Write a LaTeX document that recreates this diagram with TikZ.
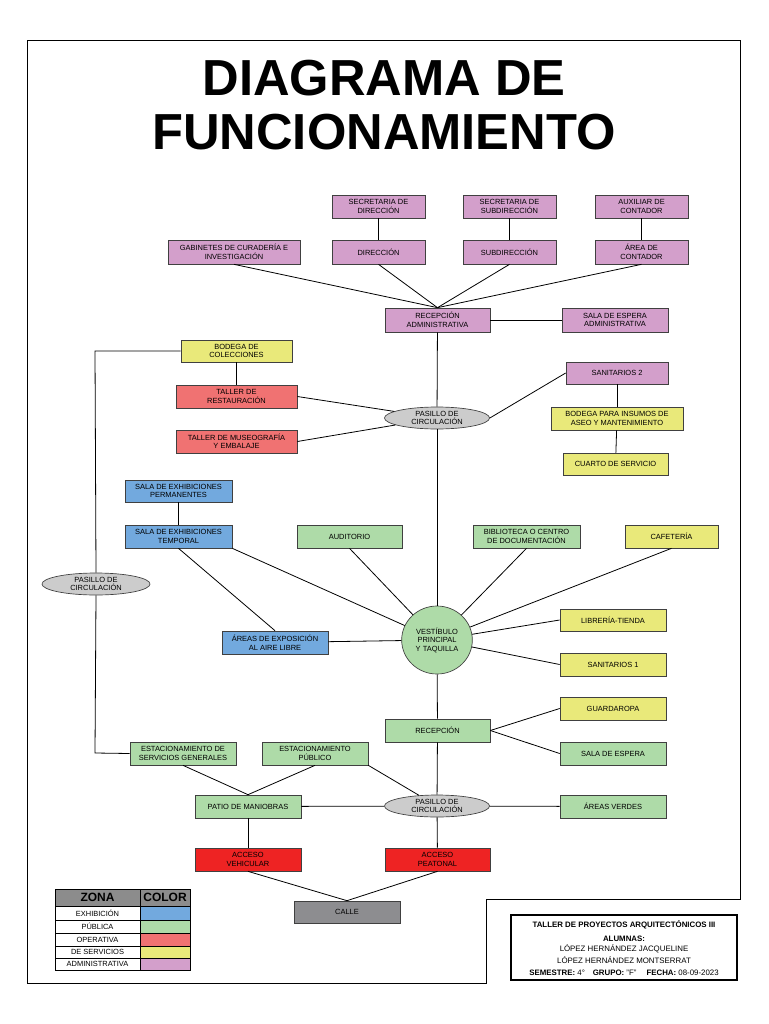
\documentclass[tikz,border=0pt]{standalone}
\usepackage{fontspec}
\setmainfont{Liberation Sans}
\usetikzlibrary{shapes.geometric}
\definecolor{adm}{HTML}{D39FCB}
\definecolor{srv}{HTML}{E9E97A}
\definecolor{ope}{HTML}{F07272}
\definecolor{exh}{HTML}{72A9DE}
\definecolor{pub}{HTML}{AEDBA8}
\definecolor{acc}{HTML}{EE2323}
\definecolor{cal}{HTML}{8D8D90}
\definecolor{pas}{HTML}{CCCCCC}
\tikzset{
  bx/.style={draw=black!75,line width=0.5pt,inner sep=0pt,align=center,font=\fontsize{5.6}{6.4}\selectfont},
  el/.style={ellipse,draw=black!75,fill=pas,line width=0.5pt,inner sep=0pt,align=center,font=\fontsize{5.6}{6.4}\selectfont},
  ln/.style={line width=0.6pt,black}
}
\newcommand{\bx}[7]{\node[bx,fill=#6,minimum width={(#4-#2)*0.75pt},minimum height={(#5-#3)*0.75pt}] (#1) at ({(#2+#4)/2},{(#3+#5)/2}) {#7};}
\begin{document}
\begin{tikzpicture}[x=0.75pt,y=-0.75pt]
\useasboundingbox (0,0) rectangle (768,1024);
\fill[white] (0,0) rectangle (768,1024);
% frame
\draw[line width=0.7pt] (27,40) -- (740,40) -- (740,899) -- (486,899) -- (486,983) -- (27,983) -- cycle;
\node[font=\fontsize{38}{40}\selectfont\bfseries] (t1) at (384,78) {DIAGRAMA DE};
\node[font=\fontsize{38}{40}\selectfont\bfseries] (t2) at (384,132) {FUNCIONAMIENTO};
% admin
\bx{sd}{332}{195}{425}{218}{adm}{SECRETARIA DE\\DIRECCIÓN}
\bx{ss}{463}{195}{556}{218}{adm}{SECRETARIA DE\\SUBDIRECCIÓN}
\bx{ac}{595}{195}{688}{218}{adm}{AUXILIAR DE\\CONTADOR}
\bx{gab}{168}{240}{300}{264}{adm}{GABINETES DE CURADERÍA E\\INVESTIGACIÓN}
\bx{dir}{332}{240}{425}{264}{adm}{DIRECCIÓN}
\bx{sub}{463}{240}{556}{264}{adm}{SUBDIRECCIÓN}
\bx{are}{595}{240}{688}{264}{adm}{ÁREA DE\\CONTADOR}
\bx{ra}{385}{308}{490}{332}{adm}{RECEPCIÓN\\ADMINISTRATIVA}
\bx{sea}{562}{308}{668}{332}{adm}{SALA DE ESPERA\\ADMINISTRATIVA}
% services
\bx{bc}{181}{340}{292}{362}{srv}{BODEGA DE\\COLECCIONES}
\bx{tr}{176}{385}{297}{408}{ope}{TALLER DE\\RESTAURACIÓN}
\bx{tm}{176}{430}{297}{453}{ope}{TALLER DE MUSEOGRAFÍA\\Y EMBALAJE}
\node[el,minimum width=78.75pt,minimum height=16.5pt] (p1) at (437,418) {PASILLO DE\\CIRCULACIÓN};
\bx{s2}{566}{362}{668}{384}{adm}{SANITARIOS 2}
\bx{bi}{551}{407}{683}{430}{srv}{BODEGA PARA INSUMOS DE\\ASEO Y MANTENIMIENTO}
\bx{cs}{563}{453}{668}{475}{srv}{CUARTO DE SERVICIO}
% exhibition / public
\bx{sp}{125}{480}{232}{502}{exh}{SALA DE EXHIBICIONES\\PERMANENTES}
\bx{st}{125}{525}{232}{548}{exh}{SALA DE EXHIBICIONES\\TEMPORAL}
\bx{au}{297}{525}{402}{548}{pub}{AUDITORIO}
\bx{bib}{473}{525}{580}{548}{pub}{BIBLIOTECA O CENTRO\\DE DOCUMENTACIÓN}
\bx{caf}{625}{525}{718}{548}{srv}{CAFETERÍA}
\node[el,minimum width=81pt,minimum height=16.5pt] (p2) at (96,584) {PASILLO DE\\CIRCULACIÓN};
\node[ellipse,draw=black!75,fill=pub,line width=0.5pt,inner sep=0pt,align=center,font=\fontsize{5.6}{6.4}\selectfont,minimum width=53pt,minimum height=51pt] (ve) at (437,640) {VESTÍBULO\\PRINCIPAL\\Y TAQUILLA};
\bx{ae}{222}{631}{328}{654}{exh}{ÁREAS DE EXPOSICIÓN\\AL AIRE LIBRE}
\bx{lt}{560}{609}{666}{631}{srv}{LIBRERÍA-TIENDA}
\bx{s1}{560}{653}{666}{676}{srv}{SANITARIOS 1}
\bx{gu}{560}{697}{666}{720}{srv}{GUARDAROPA}
\bx{rec}{385}{719}{490}{742}{pub}{RECEPCIÓN}
\bx{se}{560}{742}{666}{765}{pub}{SALA DE ESPERA}
\bx{esg}{130}{742}{236}{765}{pub}{ESTACIONAMIENTO DE\\SERVICIOS GENERALES}
\bx{ep}{262}{742}{368}{765}{pub}{ESTACIONAMIENTO\\PÚBLICO}
\bx{pm}{195}{795}{301}{818}{pub}{PATIO DE MANIOBRAS}
\node[el,minimum width=78.75pt,minimum height=16.5pt] (p3) at (437,806) {PASILLO DE\\CIRCULACIÓN};
\bx{av}{560}{795}{666}{818}{pub}{ÁREAS VERDES}
\bx{av1}{195}{848}{301}{871}{acc}{ACCESO\\VEHICULAR}
\bx{ap}{385}{848}{490}{871}{acc}{ACCESO\\PEATONAL}
\bx{ca}{294}{901}{400}{923}{cal}{CALLE}
% connectors
\begin{scope}[ln]
\draw (sd) -- (dir); \draw (ss) -- (sub); \draw (ac) -- (are);
\draw (gab.south) -- (ra.north); \draw (dir.south) -- (ra.north);
\draw (sub.south) -- (ra.north); \draw (are.south) -- (ra.north);
\draw (ra) -- (sea); \draw (ra) -- (p1); \draw (p1) -- (ve); \draw (ve) -- (rec);
\draw (rec) -- (p3); \draw (p3) -- (ap);
\draw (tr.east) -- (p1); \draw (tm.east) -- (p1);
\draw (s2.west) -- (p1.east);
\draw (s2) -- (bi); \draw (bi) -- (cs);
\draw (bc) -- (tr);
\draw (bc.west) -- (95,351) -- (p2.north);
\draw (p2.south) -- (95,753) -- (esg.west);
\draw (sp) -- (st);
\draw (st.south east) -- (ve); \draw (st.south) -- (ae.north);
\draw (au.south) -- (ve); \draw (bib.south) -- (ve); \draw (caf.south) -- (ve);
\draw (ae) -- (ve); \draw (lt.west) -- (ve); \draw (s1.west) -- (ve);
\draw (rec.east) -- (gu.west); \draw (rec.east) -- (se.west);
\draw (esg.south) -- (pm.north); \draw (ep.south) -- (pm.north);
\draw (ep.south east) -- (p3);
\draw (pm) -- (p3); \draw (p3) -- (av);
\draw (pm) -- (av1);
\draw (av1.south) -- (ca.north); \draw (ap.south) -- (ca.north);
\end{scope}
% legend
\begin{scope}[font=\fontsize{5.6}{6.4}\selectfont]
\fill[black!45] (55,889) rectangle (190,906);
\fill[white] (55,906) rectangle (140,970);
\fill[exh] (140,906) rectangle (190,920);
\fill[pub] (140,920) rectangle (190,933);
\fill[ope] (140,933) rectangle (190,946);
\fill[srv] (140,946) rectangle (190,958);
\fill[adm] (140,958) rectangle (190,970);
\draw[line width=0.6pt] (55,889) rectangle (190,970);
\draw[line width=0.4pt] (140,889) -- (140,970);
\foreach \y in {906,920,933,946,958} \draw[line width=0.4pt] (55,\y) -- (190,\y);
\node[font=\fontsize{9}{10}\selectfont\bfseries] (lz) at (97.5,897.5) {ZONA};
\node[font=\fontsize{9}{10}\selectfont\bfseries] (lc) at (165,897.5) {COLOR};
\node (l1) at (97.5,913) {EXHIBICIÓN};
\node (l2) at (97.5,926.5) {PÚBLICA};
\node (l3) at (97.5,939.5) {OPERATIVA};
\node (l4) at (97.5,952) {DE SERVICIOS};
\node (l5) at (97.5,964) {ADMINISTRATIVA};
\end{scope}
% title block
\draw[line width=0.8pt] (511,915) rectangle (737,980);
\begin{scope}[font=\fontsize{5.9}{7}\selectfont]
\node[font=\fontsize{5.9}{7}\selectfont\bfseries] (tb1) at (624,925) {TALLER DE PROYECTOS ARQUITECTÓNICOS III};
\node[font=\fontsize{5.9}{7}\selectfont\bfseries] (tb2) at (624,939) {ALUMNAS:};
\node (tb3) at (624,949) {LÓPEZ HERNÁNDEZ JACQUELINE};
\node (tb4) at (624,960) {LÓPEZ HERNÁNDEZ MONTSERRAT};
\node (tb5) at (624,973) {\textbf{SEMESTRE:} 4°\quad\textbf{GRUPO:} "F"\quad\ \textbf{FECHA:} 08-09-2023};
\end{scope}
\end{tikzpicture}
\end{document}
